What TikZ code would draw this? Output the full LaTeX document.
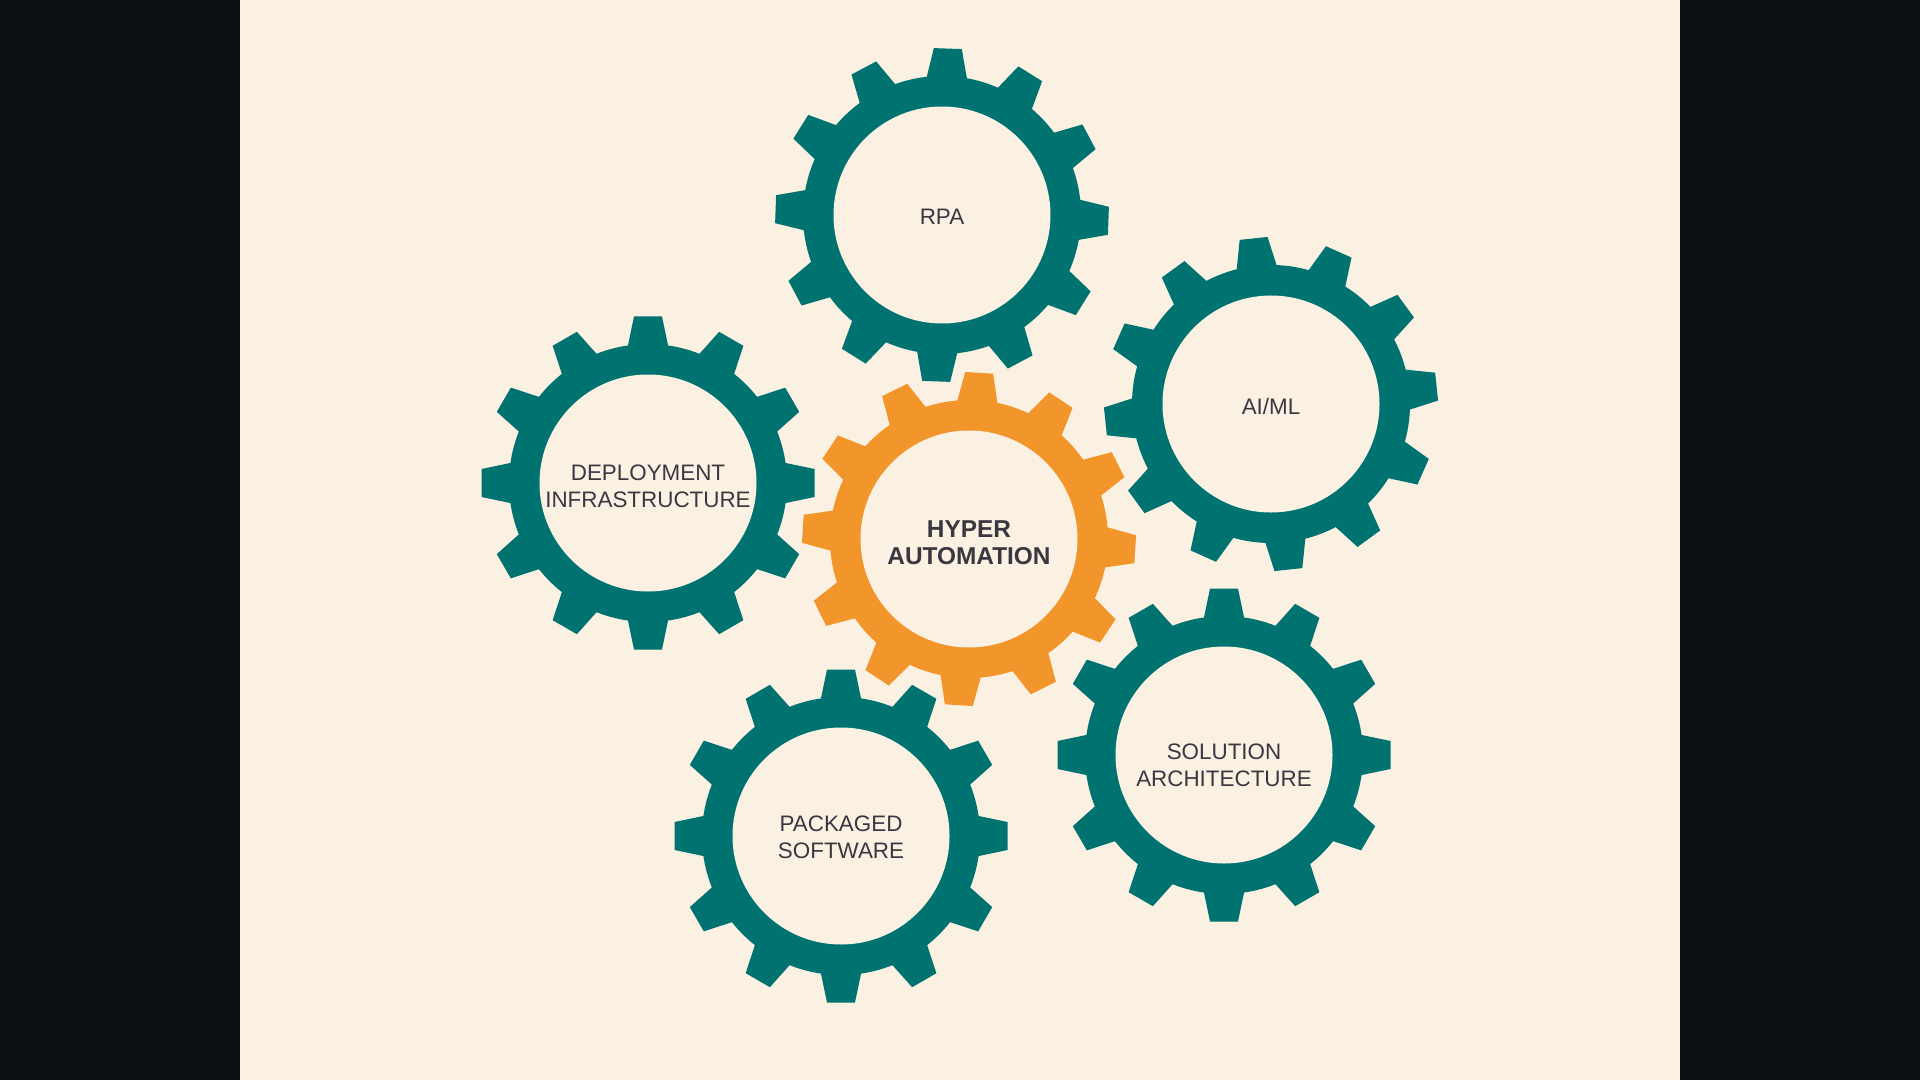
\documentclass[tikz,border=0pt]{standalone}
\usepackage{fontspec}
\setmainfont{Liberation Sans}
\usepackage{tikz}
\definecolor{Color1}{RGB}{0,115,113}
\definecolor{Color2}{RGB}{242,149,42}
\definecolor{Color3}{RGB}{250,241,227}
\definecolor{Color4}{RGB}{13,17,22}
\definecolor{Color5}{RGB}{58,55,64}
\tikzset{
	gearlabel/.style={text=Color5,align=center,inner sep=0pt,font=\fontsize{11.2}{13.4}\selectfont},
	pics/gear/.style={code={
		\fill[#1] (0,0) circle (139);
		\foreach \a in {0,30,...,330}
			\fill[#1,rotate=\a] (134,-20.8) -- (166.5,-14) -- (166.5,14) -- (134,20.8) -- cycle;
		\fill[Color3] (0,0) circle (108.5);
	}}
}

\begin{document}
\begin{tikzpicture}[x=0.5pt,y=-0.5pt]
		% background and side bars
		\fill[Color4] (0,0) rectangle (1920,1080);
		\fill[Color3] (240,0) rectangle (1680,1080);

		% RPA gear and label
		\pic[rotate=-2] at (942,215) {gear=Color1};
		\node[gearlabel] (rpa) at (942,217) {RPA};

		% AI/ML gear and label
		\pic[rotate=6] at (1271,404) {gear=Color1};
		\node[gearlabel] (aiml) at (1271,406) {AI/ML};

		% deployment gear and label
		\pic at (648,483) {gear=Color1};
		\node[gearlabel] (deploy) at (648,486) {DEPLOYMENT\\INFRASTRUCTURE};

		% solution gear and label
		\pic at (1224,755) {gear=Color1};
		\node[gearlabel] (solution) at (1224,765) {SOLUTION\\ARCHITECTURE};

		% packaged gear and label
		\pic at (841,836) {gear=Color1};
		\node[gearlabel] (packaged) at (841,837) {PACKAGED\\SOFTWARE};

		% hyper automation gear and label
		\pic[rotate=-3.5] at (969,539) {gear=Color2};
		\node[gearlabel,font=\bfseries\fontsize{12.2}{13.6}\selectfont] (hyper) at (969,543) {HYPER\\AUTOMATION};

	\end{tikzpicture}
\end{document}
